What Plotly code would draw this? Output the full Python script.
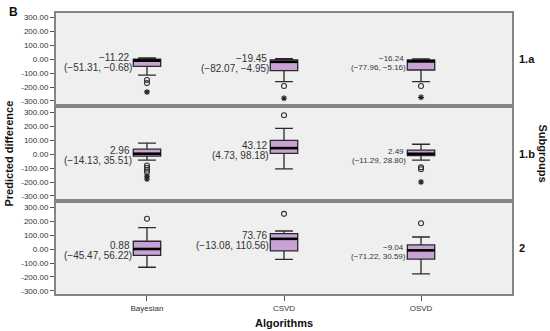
import plotly.graph_objects as go

categories = ["Bayesian", "CSVD", "OSVD"]
subgroups = ["1.a", "1.b", "2"]

# per subgroup (rows) x per algorithm (cols)
median = [[-11.22, -19.45, -16.24], [2.96, 43.12, 2.49], [0.88, 73.76, -9.04]]
q1 = [[-51.31, -82.07, -77.96], [-14.13, 4.73, -11.29], [-45.47, -13.08, -71.22]]
q3 = [[-0.68, -4.95, -5.16], [35.51, 98.18, 28.80], [56.22, 110.56, 30.59]]
upper_whisker = [[9, 4, 2], [79, 185, 71], [154, 130, 87]]
lower_whisker = [[-114, -162, -162], [-43, -106, -43], [-130, -73, -177]]

outliers_circle = [
    [[-150, -172], [-193], [-193]],
    [[-82, -98, -112, -128], [279], [-95, -108]],
    [[218], [253], [186]],
]
outliers_extreme = [
    [[-235], [-281], [-274]],
    [[-158, -178], [], [-200]],
    [[], [], []],
]

ytick_vals = [300, 200, 100, 0, -100, -200, -300]
ytick_text = ["300.00", "200.00", "100.00", "0.00", "-100.00", "-200.00", "-300.00"]

BOX_W = 0.2
FILL = "#c9a2d5"
LINE = "#2a2a2a"
FONT = "Liberation Sans"

fig = go.Figure()
xs = list(range(len(categories)))

gap = 0.0141
h = (1 - 2 * gap) / 3
domains = [[1 - h, 1], [h + gap, 1 - h - gap], [0, h]]

annotations = []
shapes = []
for r, sg in enumerate(subgroups):
    xa = "x" if r == 0 else f"x{r+1}"
    ya = "y" if r == 0 else f"y{r+1}"
    fig.add_trace(go.Box(
        x=xs, q1=q1[r], median=median[r], q3=q3[r],
        lowerfence=lower_whisker[r], upperfence=upper_whisker[r],
        width=BOX_W, whiskerwidth=0.65, fillcolor=FILL,
        line=dict(color=LINE, width=1.3), boxpoints=False,
        xaxis=xa, yaxis=ya, showlegend=False, hoverinfo="skip"))
    for i in xs:
        # thick median line
        shapes.append(dict(type="line", xref=xa, yref=ya,
                           x0=i - BOX_W / 2, x1=i + BOX_W / 2,
                           y0=median[r][i], y1=median[r][i],
                           line=dict(color="#000", width=2.6)))
        if outliers_circle[r][i]:
            fig.add_trace(go.Scatter(
                x=[i] * len(outliers_circle[r][i]), y=outliers_circle[r][i],
                mode="markers", marker=dict(symbol="circle-open", size=5,
                                            color="#333", line=dict(width=1.1)),
                xaxis=xa, yaxis=ya, showlegend=False, hoverinfo="skip"))
        if outliers_extreme[r][i]:
            fig.add_trace(go.Scatter(
                x=[i] * len(outliers_extreme[r][i]), y=outliers_extreme[r][i],
                mode="markers", marker=dict(symbol="asterisk-open", size=5,
                                            color="#222", line=dict(width=1.1, color="#222")),
                xaxis=xa, yaxis=ya, showlegend=False, hoverinfo="skip"))
        fs = 10 if i < 2 else 8
        sp = 5 if i < 2 else 4.5
        fmt = lambda v: f"{v:.2f}".replace("-", "\u2212")
        annotations.append(dict(
            x=i - BOX_W / 2 - 0.01, y=median[r][i], xref=xa, yref=ya,
            text=fmt(median[r][i]), showarrow=False, xanchor="right",
            yanchor="middle", yshift=sp - 2, font=dict(family=FONT, size=fs, color="#333")))
        annotations.append(dict(
            x=i - BOX_W / 2 + 0.005, y=median[r][i], xref=xa, yref=ya,
            text=f"({fmt(q1[r][i])}, {fmt(q3[r][i])})", showarrow=False, xanchor="right",
            yanchor="middle", yshift=-sp - 2, font=dict(family=FONT, size=fs, color="#333")))
    # panel label
    annotations.append(dict(
        x=1, y=(domains[r][0] + domains[r][1]) / 2, xref="paper", yref="paper",
        text=f"<b>{sg}</b>", showarrow=False, xanchor="left", yanchor="middle",
        xshift=5, font=dict(family=FONT, size=11, color="#111")))

    axis_common = dict(showline=True, mirror=True, linecolor="#858585", linewidth=2,
                       showgrid=False, zeroline=False)
    fig.update_layout(**{
        ("xaxis" if r == 0 else f"xaxis{r+1}"): dict(
            axis_common, range=[-0.664, 2.664], domain=[0, 1],
            anchor=ya, tickvals=xs, ticktext=categories,
            showticklabels=(r == 2), ticks="outside" if r == 2 else "",
            ticklen=5, tickcolor="#555", tickwidth=1,
            tickfont=dict(family=FONT, size=8, color="#333")),
        ("yaxis" if r == 0 else f"yaxis{r+1}"): dict(
            axis_common, range=[-322, 331], domain=domains[r], anchor=xa,
            tickvals=ytick_vals, ticktext=ytick_text, ticks="outside",
            ticklen=4, tickcolor="#555", tickwidth=1,
            tickfont=dict(family=FONT, size=8, color="#333")),
    })

annotations += [
    dict(x=0, y=0.5, xref="paper", yref="paper", text="<b>Predicted difference</b>",
         textangle=-90, showarrow=False, xanchor="center", yanchor="middle",
         xshift=-48, font=dict(family=FONT, size=11, color="#111")),
    dict(x=1, y=0.5, xref="paper", yref="paper", text="<b>Subgroups</b>",
         textangle=90, showarrow=False, xanchor="center", yanchor="middle",
         xshift=31, font=dict(family=FONT, size=11, color="#111")),
    dict(x=0.5, y=0, xref="paper", yref="paper", text="<b>Algorithms</b>",
         showarrow=False, xanchor="center", yanchor="middle",
         yshift=-29, font=dict(family=FONT, size=11, color="#111")),
    dict(x=0, y=1, xref="paper", yref="paper", text="<b>B</b>",
         showarrow=False, xanchor="left", yanchor="top",
         xshift=-49, yshift=10, font=dict(family=FONT, size=12, color="#111")),
]

fig.update_layout(
    width=550, height=331,
    margin=dict(l=56, r=38, t=11, b=37),
    paper_bgcolor="white", plot_bgcolor="#efefef",
    annotations=annotations, shapes=shapes,
    showlegend=False,
)

fig.write_html("out.html", config={"displayModeBar": False},
               post_script="document.body.style.margin='0';document.body.style.padding='0';")
